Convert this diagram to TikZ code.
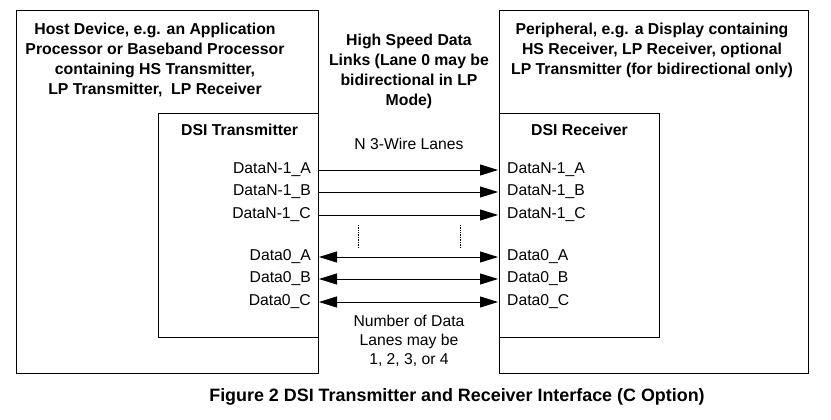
\documentclass[tikz,border=0pt]{standalone}
\usepackage{fontspec}
\setmainfont{Liberation Sans}
\usetikzlibrary{arrows.meta}
\begin{document}
\begin{tikzpicture}[x=1pt,y=-1pt,
 box/.style={draw,line width=0.9pt},
 lbl/.style={font=\fontsize{15.7}{18}\selectfont,inner sep=0pt},
 ttl/.style={font=\bfseries\fontsize{15.8}{20}\selectfont,align=center,inner sep=0pt},
 tip/.style={-{Triangle[length=18pt,width=11pt]}},
 dtip/.style={{Triangle[length=18pt,width=11pt]}-{Triangle[length=18pt,width=11pt]}}]
\useasboundingbox (0,0) rectangle (831,420);
\draw[box] (16,10) rectangle (318,373);
\draw[box] (499,10) rectangle (808,373);
\draw[box,fill=white] (158,113) rectangle (318,337);
\draw[box,fill=white] (499,113) rectangle (659,337);
\node[ttl] (ht) at (155,60) {Host Device, e.g. an Application\\Processor or Baseband Processor\\containing HS Transmitter,\\LP Transmitter,\ \ LP Receiver};
\node[ttl] (pt) at (652,50) {Peripheral, e.g. a Display containing\\HS Receiver, LP Receiver, optional\\LP Transmitter (for bidirectional only)};
\node[ttl] (mt) at (409,71) {High Speed Data\\Links (Lane 0 may be\\bidirectional in LP\\Mode)};
\node[ttl,anchor=west] (tx) at (181,130) {DSI Transmitter};
\node[ttl,anchor=west] (rx) at (531,130) {DSI Receiver};
\node[lbl] (nl) at (409,144) {N 3-Wire Lanes};
\node[lbl,align=center,font=\fontsize{15.7}{19}\selectfont] (nd) at (409,341) {Number of Data\\Lanes may be\\1, 2, 3, or 4};
\foreach \n/\t/\y/\s in {a/DataN-1\_A/170/tip,b/DataN-1\_B/192/tip,c/DataN-1\_C/215/tip,d/Data0\_A/257/dtip,e/Data0\_B/279/dtip,f/Data0\_C/302/dtip}{
  \node[lbl,anchor=east] (l\n) at (311,\y) {\t};
  \node[lbl,anchor=west] (r\n) at (507,\y) {\t};
  \coordinate (p\n) at (319,\y);
  \coordinate (q\n) at (498,\y);
  \draw[\s,line width=0.8pt] (p\n) -- (q\n);
}
\coordinate (d1) at (358,225); \coordinate (d2) at (358,248);
\coordinate (d3) at (460,225); \coordinate (d4) at (460,248);
\draw[densely dotted,line width=0.7pt] (d1) -- (d2) (d3) -- (d4);
\node[ttl,font=\bfseries\fontsize{17.9}{20}\selectfont] (cap) at (457,397) {Figure 2 DSI Transmitter and Receiver Interface (C Option)};
\end{tikzpicture}
\end{document}
